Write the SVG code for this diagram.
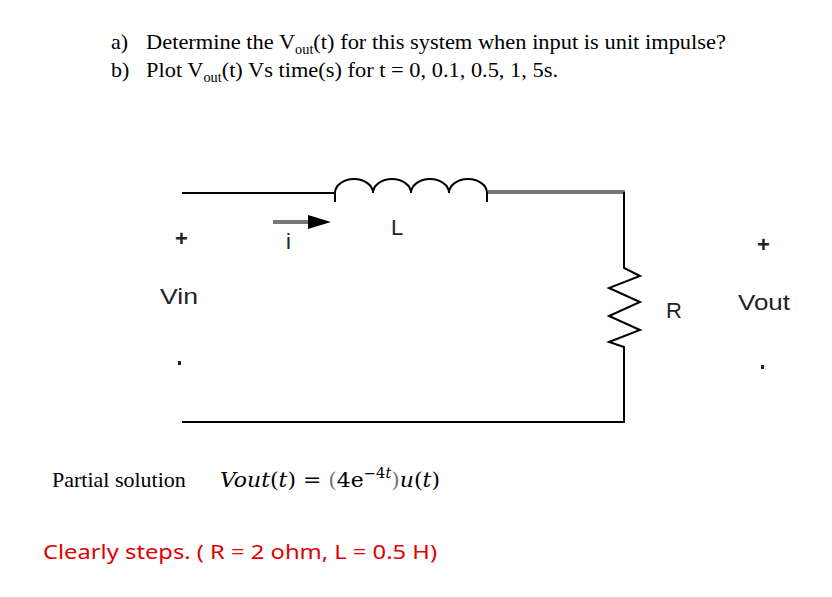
<svg xmlns="http://www.w3.org/2000/svg" width="832" height="597" viewBox="0 0 832 597">
<style>
.t{font-family:"Liberation Serif",serif;font-size:22px;fill:#000}
.s{font-family:"Liberation Sans",Arial,sans-serif;font-size:22px;fill:#222}
.w{fill:none;stroke:#000;stroke-width:2}
</style>
<rect width="832" height="597" fill="#fff"/>
<g id="question">
<text class="t" x="111" y="49">a)</text>
<text class="t" x="146" y="49" textLength="580" lengthAdjust="spacingAndGlyphs">Determine the V<tspan font-size="14" dy="5">out</tspan><tspan dy="-5">(t) for this system when input is unit impulse?</tspan></text>
<text class="t" x="111" y="77">b)</text>
<text class="t" x="146" y="77" textLength="412" lengthAdjust="spacingAndGlyphs">Plot V<tspan font-size="14" dy="5">out</tspan><tspan dy="-5">(t) Vs time(s) for t = 0, 0.1, 0.5, 1, 5s.</tspan></text>
</g>
<g id="connectors">
<path class="w" d="M182 193 H335"/>
<path d="M488 192 H625" stroke="#777" stroke-width="4" fill="none"/>
<path class="w" d="M624 192 V268 L640 276 L609 288 L640 302 L609 316 L640 330 L609 342 L624 347 V422 H182"/>
<path d="M273 222 H310" stroke="#777" stroke-width="4"/>
<path d="M308 215 L331 222 L308 229 Z" fill="#000"/>
</g>
<g id="inductor">
<path class="w" d="M335 202 V193 A19 14 0 0 1 373 193 A19 14 0 0 1 411 193 A19 14 0 0 1 449 193 A19 14 0 0 1 487 193 V202"/>
<text class="s" x="391" y="235" font-size="20">L</text>
</g>
<g id="current"><text class="s" x="286" y="249" font-size="19">i</text></g>
<g id="vin">
<text class="s" x="175" y="246" font-size="17" font-weight="bold">+</text>
<text class="s" x="160" y="304" textLength="38" lengthAdjust="spacingAndGlyphs">Vin</text>
<rect x="178" y="361" width="3" height="4" fill="#222"/>
</g>
<g id="resistor"><text class="s" x="666" y="318">R</text></g>
<g id="vout">
<text class="s" x="757" y="252" font-size="17" font-weight="bold">+</text>
<text class="s" x="738" y="310" textLength="52" lengthAdjust="spacingAndGlyphs">Vout</text>
<rect x="761" y="365" width="3" height="4" fill="#222"/>
</g>
<g id="solution">
<text class="t" x="52" y="487" font-size="21">Partial solution</text>
<text x="220" y="487" font-family="DejaVu Serif,serif" font-size="21" textLength="220" lengthAdjust="spacingAndGlyphs"><tspan font-style="italic">Vout</tspan>(<tspan font-style="italic">t</tspan>) = <tspan fill="#777">(</tspan>4e<tspan font-size="14" dy="-9">−4<tspan font-style="italic">t</tspan></tspan><tspan dy="9" fill="#777">)</tspan><tspan font-style="italic">u</tspan>(<tspan font-style="italic">t</tspan>)</text>
<text x="43" y="559" font-family="Noto Sans,Open Sans,sans-serif" font-size="20" fill="#e00000" textLength="394" lengthAdjust="spacingAndGlyphs">Clearly steps. ( R = 2 ohm, L = 0.5 H)</text>
</g>
</svg>
